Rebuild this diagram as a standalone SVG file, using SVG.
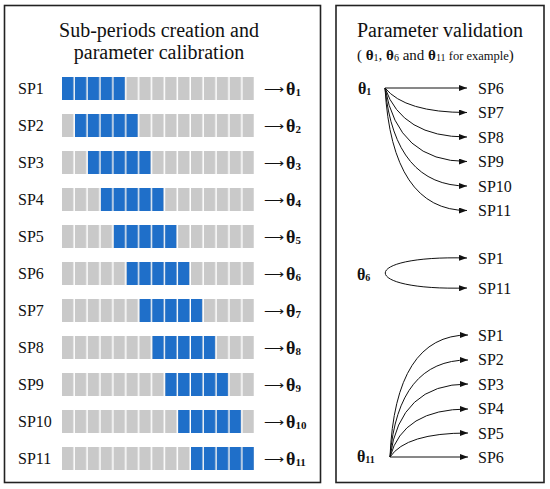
<svg xmlns="http://www.w3.org/2000/svg" width="550" height="489" viewBox="0 0 550 489">
<defs>
<marker id="ah" viewBox="0 0 8 6" refX="8" refY="3" markerWidth="8" markerHeight="6" markerUnits="userSpaceOnUse" orient="auto-start-reverse">
<path d="M0,0 L8,3 L0,6 Z" fill="#111"/>
</marker>
<pattern id="pg" patternUnits="userSpaceOnUse" x="62" y="0" width="12.9" height="489"><rect x="0" y="0" width="11.4" height="489" fill="#c9c9c9"/></pattern>
<pattern id="pb" patternUnits="userSpaceOnUse" x="62" y="0" width="12.9" height="489"><rect x="0" y="0" width="11.4" height="489" fill="#1f6fc9"/></pattern>
</defs>
<rect width="550" height="489" fill="#fff"/>
<g id="left-panel">
<rect fill="#fff" stroke="#222" stroke-width="1.6" x="4.5" y="5.5" width="316" height="477"/>
<text font-family="Liberation Serif, Tinos, Times New Roman, serif" fill="#111" font-size="20" x="159" y="37" text-anchor="middle">Sub-periods creation and</text>
<text font-family="Liberation Serif, Tinos, Times New Roman, serif" fill="#111" font-size="20" x="159" y="59" text-anchor="middle">parameter calibration</text>
</g>
<g id="sp1"><text font-family="Liberation Serif, serif" fill="#111" font-size="16" x="18" y="94">SP1</text><rect x="62" y="77" width="192" height="23" fill="url(#pg)"/><rect x="62" y="77" width="63" height="23" fill="url(#pb)"/><text font-family="Liberation Serif, serif" fill="#111" font-size="14" x="264" y="94">⟶</text><text font-family="Liberation Serif, serif" fill="#111" font-weight="bold" font-size="18" x="286" y="95">θ<tspan font-size="11" dy="1">1</tspan></text></g>
<g id="sp2"><text font-family="Liberation Serif, serif" fill="#111" font-size="16" x="18" y="131">SP2</text><rect x="62" y="114" width="192" height="23" fill="url(#pg)"/><rect x="74.9" y="114" width="63" height="23" fill="url(#pb)"/><text font-family="Liberation Serif, serif" fill="#111" font-size="14" x="264" y="131">⟶</text><text font-family="Liberation Serif, serif" fill="#111" font-weight="bold" font-size="18" x="286" y="132">θ<tspan font-size="11" dy="1">2</tspan></text></g>
<g id="sp3"><text font-family="Liberation Serif, serif" fill="#111" font-size="16" x="18" y="168">SP3</text><rect x="62" y="151" width="192" height="23" fill="url(#pg)"/><rect x="87.8" y="151" width="63" height="23" fill="url(#pb)"/><text font-family="Liberation Serif, serif" fill="#111" font-size="14" x="264" y="168">⟶</text><text font-family="Liberation Serif, serif" fill="#111" font-weight="bold" font-size="18" x="286" y="169">θ<tspan font-size="11" dy="1">3</tspan></text></g>
<g id="sp4"><text font-family="Liberation Serif, serif" fill="#111" font-size="16" x="18" y="205">SP4</text><rect x="62" y="188" width="192" height="23" fill="url(#pg)"/><rect x="100.7" y="188" width="63" height="23" fill="url(#pb)"/><text font-family="Liberation Serif, serif" fill="#111" font-size="14" x="264" y="205">⟶</text><text font-family="Liberation Serif, serif" fill="#111" font-weight="bold" font-size="18" x="286" y="206">θ<tspan font-size="11" dy="1">4</tspan></text></g>
<g id="sp5"><text font-family="Liberation Serif, serif" fill="#111" font-size="16" x="18" y="242">SP5</text><rect x="62" y="225" width="192" height="23" fill="url(#pg)"/><rect x="113.6" y="225" width="63" height="23" fill="url(#pb)"/><text font-family="Liberation Serif, serif" fill="#111" font-size="14" x="264" y="242">⟶</text><text font-family="Liberation Serif, serif" fill="#111" font-weight="bold" font-size="18" x="286" y="243">θ<tspan font-size="11" dy="1">5</tspan></text></g>
<g id="sp6"><text font-family="Liberation Serif, serif" fill="#111" font-size="16" x="18" y="279">SP6</text><rect x="62" y="262" width="192" height="23" fill="url(#pg)"/><rect x="126.5" y="262" width="63" height="23" fill="url(#pb)"/><text font-family="Liberation Serif, serif" fill="#111" font-size="14" x="264" y="279">⟶</text><text font-family="Liberation Serif, serif" fill="#111" font-weight="bold" font-size="18" x="286" y="280">θ<tspan font-size="11" dy="1">6</tspan></text></g>
<g id="sp7"><text font-family="Liberation Serif, serif" fill="#111" font-size="16" x="18" y="316">SP7</text><rect x="62" y="299" width="192" height="23" fill="url(#pg)"/><rect x="139.4" y="299" width="63" height="23" fill="url(#pb)"/><text font-family="Liberation Serif, serif" fill="#111" font-size="14" x="264" y="316">⟶</text><text font-family="Liberation Serif, serif" fill="#111" font-weight="bold" font-size="18" x="286" y="317">θ<tspan font-size="11" dy="1">7</tspan></text></g>
<g id="sp8"><text font-family="Liberation Serif, serif" fill="#111" font-size="16" x="18" y="353">SP8</text><rect x="62" y="336" width="192" height="23" fill="url(#pg)"/><rect x="152.3" y="336" width="63" height="23" fill="url(#pb)"/><text font-family="Liberation Serif, serif" fill="#111" font-size="14" x="264" y="353">⟶</text><text font-family="Liberation Serif, serif" fill="#111" font-weight="bold" font-size="18" x="286" y="354">θ<tspan font-size="11" dy="1">8</tspan></text></g>
<g id="sp9"><text font-family="Liberation Serif, serif" fill="#111" font-size="16" x="18" y="390">SP9</text><rect x="62" y="373" width="192" height="23" fill="url(#pg)"/><rect x="165.2" y="373" width="63" height="23" fill="url(#pb)"/><text font-family="Liberation Serif, serif" fill="#111" font-size="14" x="264" y="390">⟶</text><text font-family="Liberation Serif, serif" fill="#111" font-weight="bold" font-size="18" x="286" y="391">θ<tspan font-size="11" dy="1">9</tspan></text></g>
<g id="sp10"><text font-family="Liberation Serif, serif" fill="#111" font-size="16" x="18" y="427">SP10</text><rect x="62" y="410" width="192" height="23" fill="url(#pg)"/><rect x="178.1" y="410" width="63" height="23" fill="url(#pb)"/><text font-family="Liberation Serif, serif" fill="#111" font-size="14" x="264" y="427">⟶</text><text font-family="Liberation Serif, serif" fill="#111" font-weight="bold" font-size="18" x="286" y="428">θ<tspan font-size="11" dy="1">10</tspan></text></g>
<g id="sp11"><text font-family="Liberation Serif, serif" fill="#111" font-size="16" x="18" y="464">SP11</text><rect x="62" y="447" width="192" height="23" fill="url(#pg)"/><rect x="191" y="447" width="63" height="23" fill="url(#pb)"/><text font-family="Liberation Serif, serif" fill="#111" font-size="14" x="264" y="464">⟶</text><text font-family="Liberation Serif, serif" fill="#111" font-weight="bold" font-size="18" x="286" y="465">θ<tspan font-size="11" dy="1">11</tspan></text></g>
<g id="right-panel">
<rect fill="#fff" stroke="#222" stroke-width="1.6" x="336" y="5.5" width="208" height="477"/>
<text font-family="Liberation Serif, serif" fill="#111" font-size="20" x="357" y="37">Parameter validation</text>
<text font-family="Liberation Serif, serif" fill="#111" x="357" y="60" font-size="15">( <tspan font-weight="bold">θ</tspan><tspan font-size="10" dy="1">1</tspan><tspan dy="-1">,  </tspan><tspan font-weight="bold">θ</tspan><tspan font-size="10" dy="1">6</tspan><tspan dy="-1"> and  </tspan><tspan font-weight="bold">θ</tspan><tspan font-size="10" dy="1">11</tspan><tspan dy="-1" font-size="12.5"> for example</tspan>)</text>
</g>
<g id="theta1"><text font-family="Liberation Serif, serif" fill="#111" x="358" y="94" font-weight="bold" font-size="16">θ<tspan font-size="10" dy="1">1</tspan></text></g>
<g id="theta6"><text font-family="Liberation Serif, serif" fill="#111" x="357" y="280" font-weight="bold" font-size="16">θ<tspan font-size="10" dy="1">6</tspan></text></g>
<g id="theta11"><text font-family="Liberation Serif, serif" fill="#111" x="357" y="462" font-weight="bold" font-size="16">θ<tspan font-size="10" dy="1">11</tspan></text></g>
<g id="targets">
<text font-family="Liberation Serif, serif" fill="#111" font-size="16" x="478" y="93.5">SP6</text>
<text font-family="Liberation Serif, serif" fill="#111" font-size="16" x="478" y="118">SP7</text>
<text font-family="Liberation Serif, serif" fill="#111" font-size="16" x="478" y="142.5">SP8</text>
<text font-family="Liberation Serif, serif" fill="#111" font-size="16" x="478" y="167">SP9</text>
<text font-family="Liberation Serif, serif" fill="#111" font-size="16" x="478" y="191.5">SP10</text>
<text font-family="Liberation Serif, serif" fill="#111" font-size="16" x="478" y="216">SP11</text>
<text font-family="Liberation Serif, serif" fill="#111" font-size="16" x="478" y="263.5">SP1</text>
<text font-family="Liberation Serif, serif" fill="#111" font-size="16" x="478" y="293.5">SP11</text>
<text font-family="Liberation Serif, serif" fill="#111" font-size="16" x="478" y="340.5">SP1</text>
<text font-family="Liberation Serif, serif" fill="#111" font-size="16" x="478" y="365">SP2</text>
<text font-family="Liberation Serif, serif" fill="#111" font-size="16" x="478" y="389.5">SP3</text>
<text font-family="Liberation Serif, serif" fill="#111" font-size="16" x="478" y="414">SP4</text>
<text font-family="Liberation Serif, serif" fill="#111" font-size="16" x="478" y="438.5">SP5</text>
<text font-family="Liberation Serif, serif" fill="#111" font-size="16" x="478" y="463">SP6</text>
</g>
<g id="connectors" fill="none" stroke="#111" stroke-width="1" marker-end="url(#ah)">
<path d="M385 88 H467"/>
<path d="M385 88 Q405 112.5 467 112.5"/>
<path d="M385 88 Q402 137 467 137"/>
<path d="M385 88 Q398 161.5 467 161.5"/>
<path d="M385 88 Q395 186 467 186"/>
<path d="M385 88 Q392 210.5 467 210.5"/>
<path d="M467 258 C358 255 358 291 467 288" marker-start="url(#ah)"/>
<path d="M390 457 Q395 335 468 335"/>
<path d="M390 457 Q398 360 468 360"/>
<path d="M390 457 Q400 384 468 384"/>
<path d="M390 457 Q403 409 468 409"/>
<path d="M390 457 Q406 433 468 433"/>
<path d="M390 457 H468"/>
</g>
</svg>
